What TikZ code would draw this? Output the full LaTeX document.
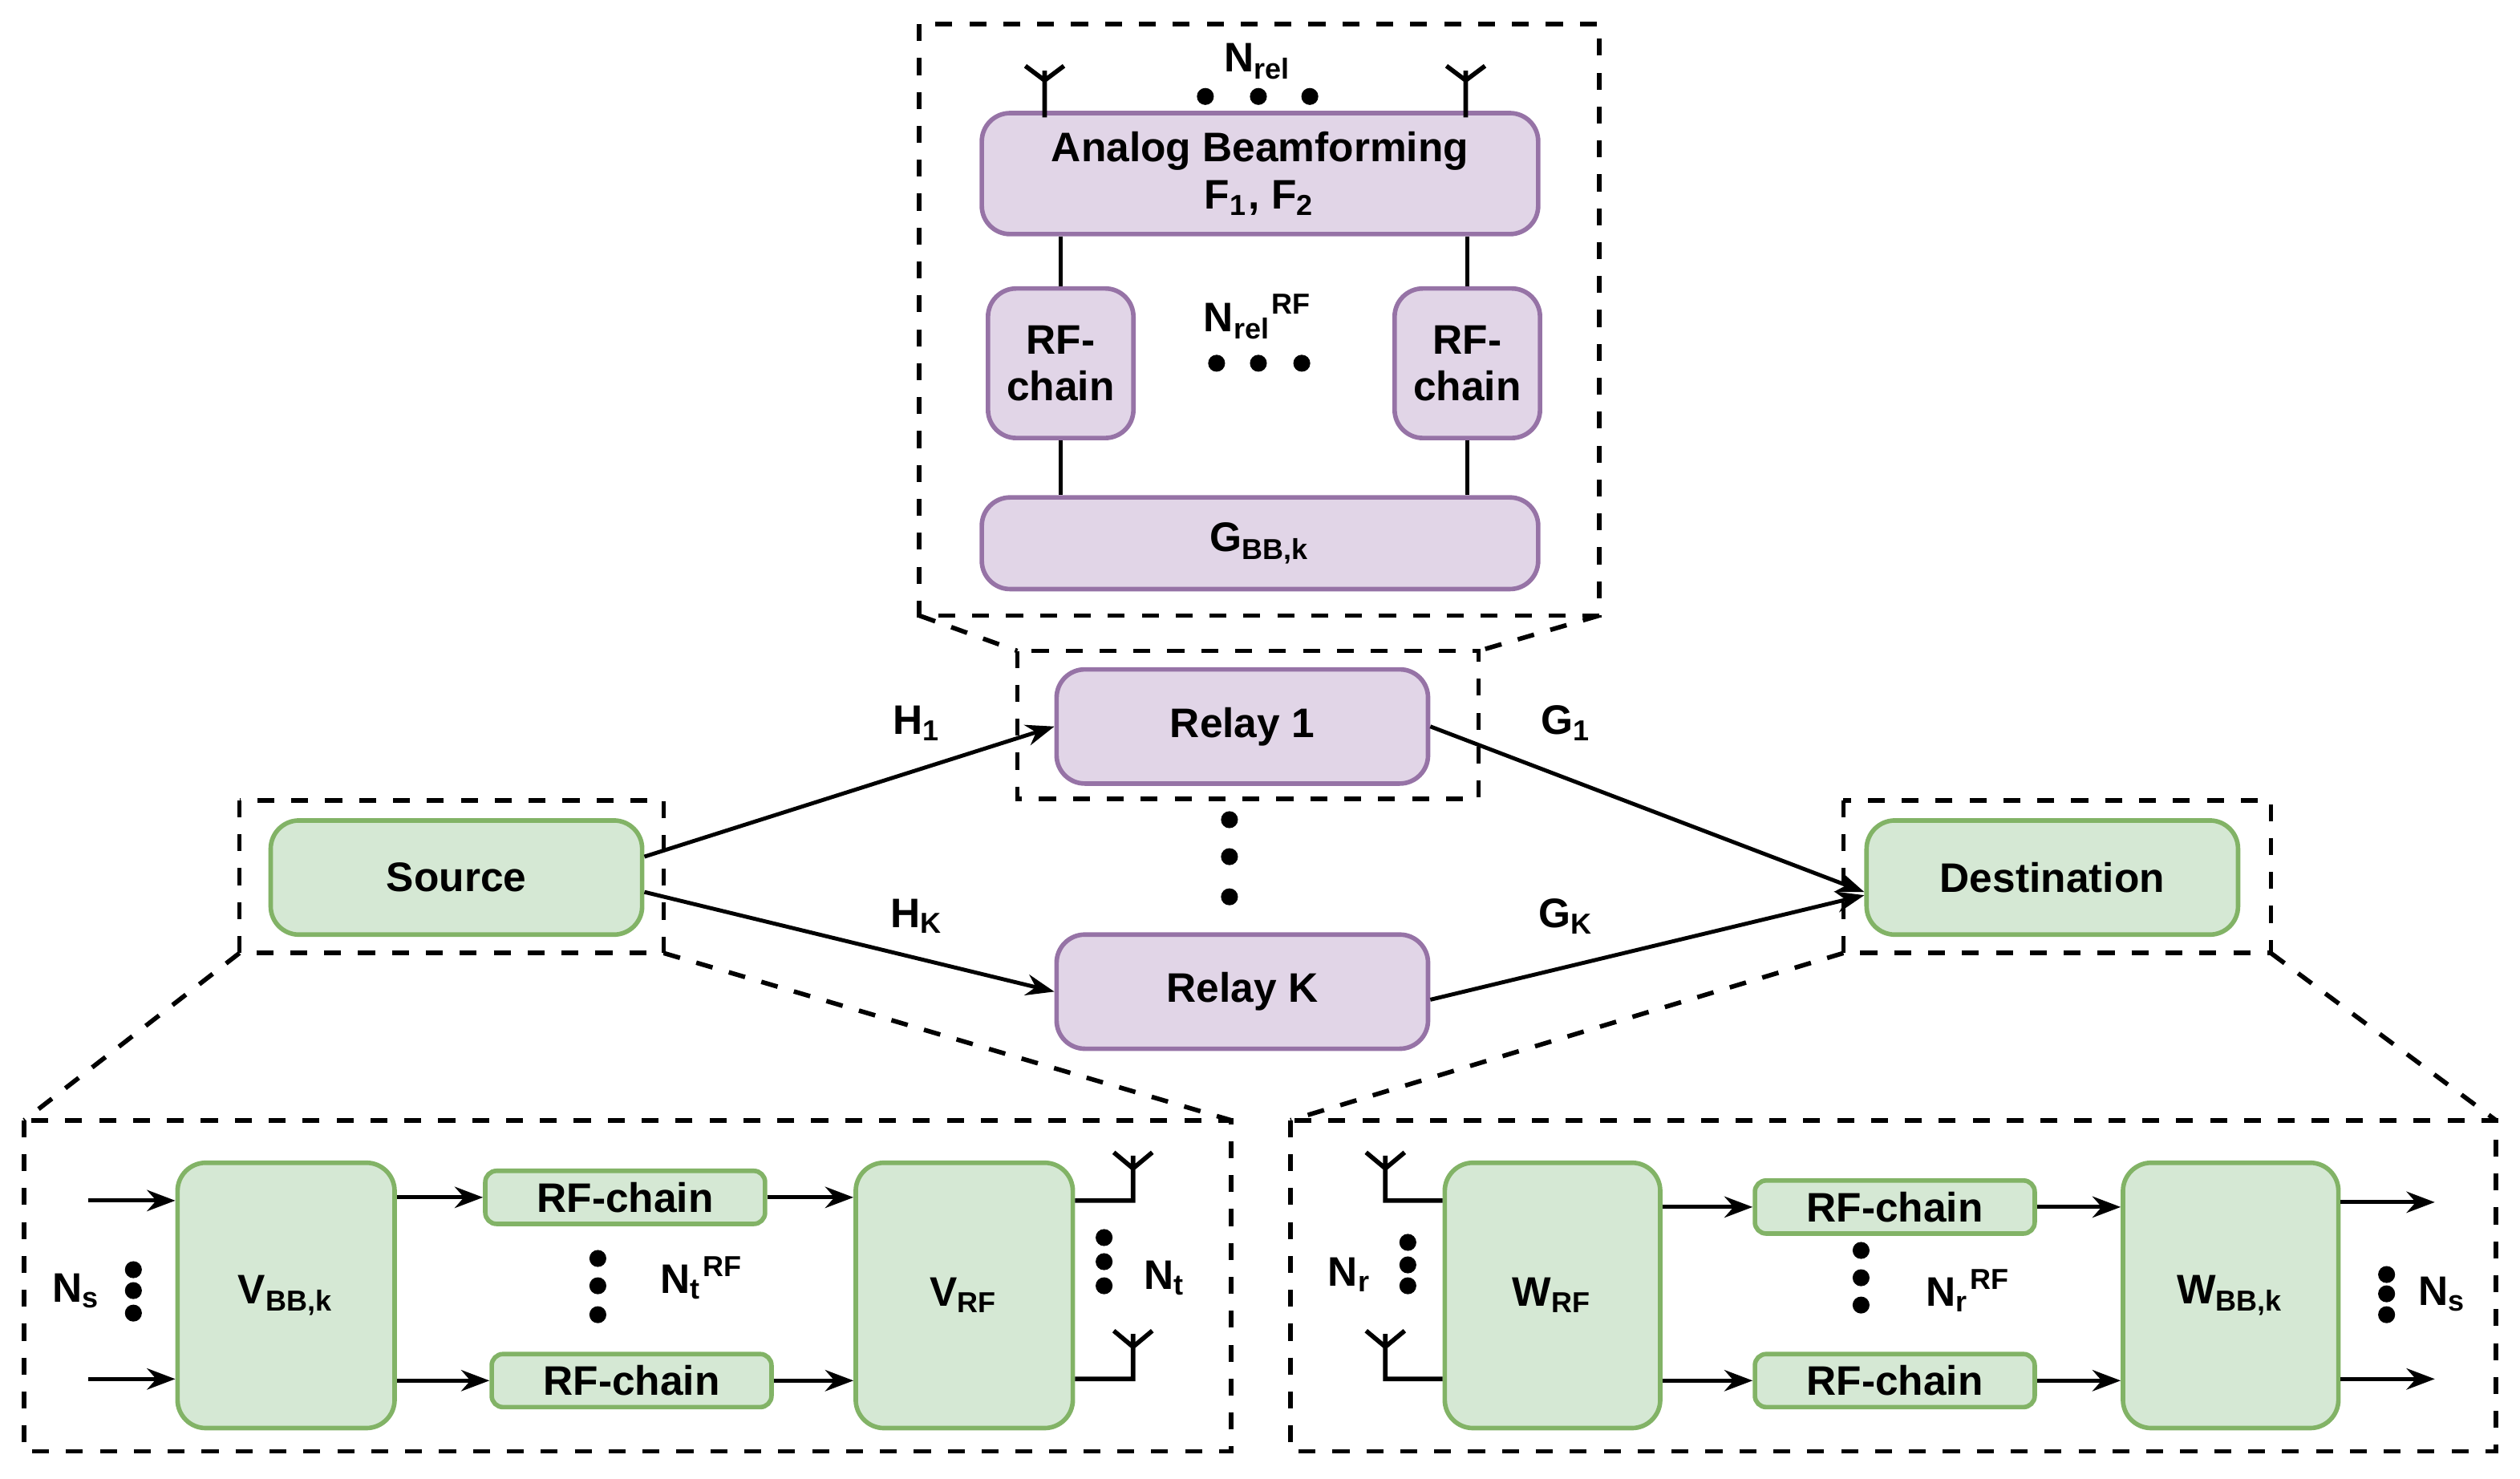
\documentclass[tikz,border=0pt]{standalone}
\usepackage{fontspec}
\setmainfont{Liberation Sans}
\usetikzlibrary{arrows.meta,calc}
\definecolor{gfill}{HTML}{D5E8D4}
\definecolor{gline}{HTML}{82B366}
\definecolor{pfill}{HTML}{E1D5E7}
\definecolor{pline}{HTML}{9673A6}
\begin{document}
\begin{tikzpicture}[x=0.01cm,y=-0.01cm,
  every node/.style={font=\fontsize{7.3}{8.3}\selectfont\bfseries},
  gbox/.style={draw=gline,fill=gfill,line width=0.8pt,rounded corners=5pt,align=center},
  pbox/.style={draw=pline,fill=pfill,line width=0.8pt,rounded corners=5pt,align=center},
  dbox/.style={draw,dashed,line width=0.8pt},
  arr/.style={-{Stealth[length=5pt]},line width=0.7pt},
  dot/.style={circle,fill,inner sep=0pt,minimum size=3pt},
  ant/.style={line width=0.8pt}]
\useasboundingbox (0,0) rectangle (1568,920);
% ---- relay zoom box
\draw[dbox] (572,15) rectangle (995,383);
\node[pbox,minimum width=3.46cm,minimum height=0.7cm] (abf) at (784,108) {Analog Beamforming\\F\textsubscript{1}, F\textsubscript{2}};
\node[pbox,minimum width=0.88cm,minimum height=0.93cm] (rfl) at (660,226) {RF-\\chain};
\node[pbox,minimum width=0.88cm,minimum height=0.93cm] (rfr) at (913,226) {RF-\\chain};
\node[pbox,minimum width=3.46cm,minimum height=0.57cm] (gbb) at (784,338) {G\textsubscript{BB,k}};
\draw[line width=0.8pt] (abf.south -| rfl) -- (rfl.north) (rfl.south) -- (gbb.north -| rfl);
\draw[line width=0.8pt] (abf.south -| rfr) -- (rfr.north) (rfr.south) -- (gbb.north -| rfr);
\foreach \x in {650,912}{
  \draw[ant] (\x,73) -- (\x,44) (\x-12,41) -- (\x,50) -- (\x+12,41);}
\node (nrel) at (783,38) {N\textsubscript{rel}};
\foreach \x in {750,783,815} \node[dot] at (\x,60) {};
\node (nrelrf) at (783,197) {N\textsubscript{rel}\textsuperscript{RF}};
\foreach \x in {757,783,810} \node[dot] at (\x,226) {};
% ---- relays
\draw[dbox] (633,405) rectangle (920,497);
\draw[dbox] (572,383) -- (633,405) (995,383) -- (920,405);
\node[pbox,minimum width=2.31cm,minimum height=0.71cm] (r1) at (773,452) {Relay 1};
\node[pbox,minimum width=2.31cm,minimum height=0.71cm] (rk) at (773,617) {Relay K};
\foreach \y in {510,533,558} \node[dot] at (765,\y) {};
% ---- source / destination
\draw[dbox] (149,498) rectangle (413,593);
\node[gbox,minimum width=2.31cm,minimum height=0.71cm] (src) at (284,546) {Source};
\draw[dbox] (1147,498) rectangle (1413,593);
\node[gbox,minimum width=2.31cm,minimum height=0.71cm] (dst) at (1277,546) {Destination};
\draw[arr] ([yshift=0.13cm]src.east) -- (r1.west);
\draw[arr] ([yshift=-0.09cm]src.east) -- (rk.west);
\draw[arr] (r1.east) -- ([yshift=-0.09cm]dst.west);
\draw[arr] ([yshift=-0.05cm]rk.east) -- ([yshift=-0.11cm]dst.west);
\node at (571,450) {H\textsubscript{1}};
\node at (571,570) {H\textsubscript{K}};
\node at (975,450) {G\textsubscript{1}};
\node at (975,570) {G\textsubscript{K}};
% ---- source zoom
\draw[dbox] (15,697) rectangle (766,903);
\draw[dbox] (149,593) -- (15,697) (413,593) -- (766,697);
\node[gbox,minimum width=1.35cm,minimum height=1.65cm] (vbb) at (178,806) {V\textsubscript{BB,k}};
\node[gbox,minimum width=1.74cm,minimum height=0.33cm,inner sep=1pt,rounded corners=2pt] (sra) at (389,745) {RF-chain};
\node[gbox,minimum width=1.74cm,minimum height=0.33cm,inner sep=1pt,rounded corners=2pt] (srb) at (393,859) {RF-chain};
\node[gbox,minimum width=1.35cm,minimum height=1.65cm] (vrf) at (600,806) {V\textsubscript{RF}};
\coordinate (sin1) at (55,747); \coordinate (sin2) at (55,858);
\draw[arr] (sin1) -- (sin1 -| vbb.west);
\draw[arr] (sin2) -- (sin2 -| vbb.west);
\draw[arr] (sra.west -| vbb.east) -- (sra.west);
\draw[arr] (srb.west -| vbb.east) -- (srb.west);
\draw[arr] (sra.east) -- (sra.east -| vrf.west);
\draw[arr] (srb.east) -- (srb.east -| vrf.west);
\foreach \y in {747,858}{
  \draw[ant] (vrf.east |- 0,\y) -- (705,\y) -- (705,\y-28) (693,\y-30) -- (705,\y-20) -- (717,\y-30);}
\node at (48,803) {N\textsubscript{s}};
\foreach \y in {790,803,817} \node[dot] at (83,\y) {};
\foreach \y in {783,800,818} \node[dot] at (372,\y) {};
\node at (437,795) {N\textsubscript{t}\textsuperscript{RF}};
\foreach \y in {770,785,800} \node[dot] at (687,\y) {};
\node at (725,795) {N\textsubscript{t}};
% ---- destination zoom
\draw[dbox] (803,697) rectangle (1553,903);
\draw[dbox] (1147,593) -- (803,697) (1413,593) -- (1553,697);
\node[gbox,minimum width=1.34cm,minimum height=1.65cm] (wrf) at (966,806) {W\textsubscript{RF}};
\node[gbox,minimum width=1.74cm,minimum height=0.33cm,inner sep=1pt,rounded corners=2pt] (dra) at (1179,751) {RF-chain};
\node[gbox,minimum width=1.74cm,minimum height=0.33cm,inner sep=1pt,rounded corners=2pt] (drb) at (1179,859) {RF-chain};
\node[gbox,minimum width=1.34cm,minimum height=1.65cm] (wbb) at (1388,806) {W\textsubscript{BB,k}};
\foreach \y in {747,858}{
  \draw[ant] (wrf.west |- 0,\y) -- (862,\y) -- (862,\y-28) (850,\y-30) -- (862,\y-20) -- (874,\y-30);}
\draw[arr] (dra.west -| wrf.east) -- (dra.west);
\draw[arr] (drb.west -| wrf.east) -- (drb.west);
\draw[arr] (dra.east) -- (dra.east -| wbb.west);
\draw[arr] (drb.east) -- (drb.east -| wbb.west);
\coordinate (dout1) at (1515,748); \coordinate (dout2) at (1515,858);
\draw[arr] (dout1 -| wbb.east) -- (dout1);
\draw[arr] (dout2 -| wbb.east) -- (dout2);
\node at (840,793) {N\textsubscript{r}};
\foreach \y in {773,787,800} \node[dot] at (876,\y) {};
\foreach \y in {778,795,812} \node[dot] at (1158,\y) {};
\node at (1225,803) {N\textsubscript{r}\textsuperscript{RF}};
\foreach \y in {793,805,818} \node[dot] at (1485,\y) {};
\node at (1520,805) {N\textsubscript{s}};
\end{tikzpicture}
\end{document}
